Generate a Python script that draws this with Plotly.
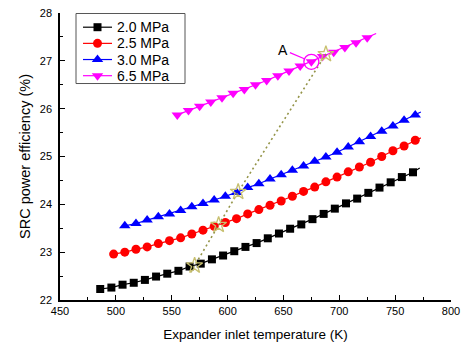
import plotly.graph_objects as go

# ---- data ----
x_20 = [486, 496, 506, 516, 526, 536, 546, 556, 566, 576, 586, 596, 606, 616, 626,
        636, 646, 656, 666, 676, 686, 696, 706, 716, 726, 736, 746, 756, 766, 772]
y_20 = [22.23, 22.26, 22.32, 22.36, 22.42, 22.49, 22.55, 22.61, 22.70, 22.76, 22.85,
        22.93, 23.02, 23.11, 23.19, 23.29, 23.39, 23.49, 23.58, 23.69, 23.80, 23.91,
        24.02, 24.12, 24.24, 24.35, 24.46, 24.57, 24.67, 24.76]

x_25 = [498, 508, 518, 528, 538, 548, 558, 568, 578, 588, 598, 608, 618, 628, 638,
        648, 658, 668, 678, 688, 698, 708, 718, 728, 738, 748, 758, 768, 773]
y_25 = [22.96, 23.00, 23.06, 23.11, 23.18, 23.24, 23.30, 23.38, 23.46, 23.54, 23.62,
        23.70, 23.80, 23.89, 23.98, 24.07, 24.17, 24.27, 24.36, 24.47, 24.57, 24.68,
        24.78, 24.88, 25.00, 25.12, 25.22, 25.34, 25.39]

x_30 = [508, 518, 528, 538, 548, 558, 568, 578, 588, 598, 608, 618, 628, 638, 648,
        658, 668, 678, 688, 698, 708, 718, 728, 738, 748, 758, 768, 773]
y_30 = [23.55, 23.60, 23.67, 23.74, 23.80, 23.87, 23.95, 24.02, 24.09, 24.17, 24.25,
        24.35, 24.43, 24.53, 24.62, 24.71, 24.80, 24.90, 24.99, 25.09, 25.20, 25.31,
        25.42, 25.53, 25.64, 25.76, 25.87, 25.93]

x_65 = [555, 565, 575, 585, 595, 605, 615, 625, 635, 645, 655, 665, 675, 685, 695,
        705, 715, 725, 733]
y_65 = [25.87, 25.96, 26.05, 26.14, 26.23, 26.32, 26.40, 26.50, 26.59, 26.69, 26.79,
        26.89, 26.98, 27.09, 27.18, 27.28, 27.38, 27.48, 27.57]

locus_x = [567, 570.5, 592, 609.5, 688, 690]
locus_y = [22.58, 22.72, 23.57, 24.26, 27.14, 27.21]
star_x = [570.5, 592, 609.5, 688]
star_y = [22.72, 23.57, 24.26, 27.14]

point_a_x = [675]
point_a_y = [26.98]

series_names = ["2.0 MPa", "2.5 MPa", "3.0 MPa", "6.5 MPa"]
x_ticks = [450, 500, 550, 600, 650, 700, 750, 800]
y_ticks = [22, 23, 24, 25, 26, 27, 28]

FONT = "Arial, Liberation Sans, sans-serif"

# plot-area pixel geometry (used for the hand-drawn legend overlay)
PL, PR, PT, PB = 60, 451, 7, 300

fig = go.Figure()

styles = [
    (x_20, y_20, "#000000", "square", 8),
    (x_25, y_25, "#ff0000", "circle", 9),
    (x_30, y_30, "#0000ff", "triangle-up", 10),
    (x_65, y_65, "#ff00ff", "triangle-down", 10),
]
for (xs, ys, col, sym, sz), name in zip(styles, series_names):
    sizes = [sz] * (len(xs) - 1) + [0]
    fig.add_trace(go.Scatter(
        x=xs, y=ys, name=name, mode="lines+markers", showlegend=False,
        line=dict(color=col, width=1.2),
        marker=dict(symbol=sym, size=sizes, color=col, opacity=1, line=dict(width=0)),
    ))

fig.add_trace(go.Scatter(
    x=locus_x, y=locus_y, mode="lines", showlegend=False,
    line=dict(color="#949448", width=1.6, dash="2px,3px"), hoverinfo="skip",
))
fig.add_trace(go.Scatter(
    x=star_x, y=star_y, mode="markers", showlegend=False,
    marker=dict(symbol="star-open", size=12, color="#c8c070",
                line=dict(width=1.3, color="#bdb060")),
))
fig.add_trace(go.Scatter(
    x=point_a_x, y=point_a_y, mode="markers", showlegend=False,
    marker=dict(symbol="circle-open", size=15, color="#ff00ff",
                line=dict(width=1.3, color="#ff00ff")),
))

fig.add_annotation(
    x=point_a_x[0], y=point_a_y[0], xref="x", yref="y",
    text="A", showarrow=True, arrowhead=0, arrowwidth=1.2, arrowcolor="#ff00ff",
    ax=-28, ay=-12, standoff=7, font=dict(family=FONT, size=14, color="#000000"),
)

# ---- hand-drawn legend on a pixel-scaled overlay axis ----
legend_rows = [21.5, 38, 54.5, 71]
for (xs, ys, col, sym, sz), name, ry in zip(styles, series_names, legend_rows):
    fig.add_trace(go.Scatter(
        x=[83, 97.5, 112], y=[ry, ry, ry], xaxis="x2", yaxis="y2",
        mode="lines+markers", showlegend=False, hoverinfo="skip",
        line=dict(color=col, width=1.2),
        marker=dict(symbol=sym, size=[0, sz, 0], color=col, opacity=1,
                    line=dict(width=0)),
    ))
    fig.add_annotation(
        x=115, y=ry, xref="x2", yref="y2", text=name, showarrow=False,
        xanchor="left", yanchor="middle",
        font=dict(family=FONT, size=14, color="#000000"),
    )
fig.add_shape(type="rect", xref="x2", yref="y2", x0=76, x1=185, y0=7.5, y1=79,
              line=dict(color="#555555", width=1), fillcolor="rgba(0,0,0,0)")

axis_common = dict(
    showline=True, linecolor="#000000", linewidth=1.5, mirror=False,
    showgrid=False, zeroline=False,
    ticks="inside", ticklen=5, tickwidth=1.3, tickcolor="#000000",
    tickfont=dict(family=FONT, size=11, color="#000000"),
)

xaxis = dict(
    range=[450, 800], tickvals=x_ticks, ticktext=[str(v) for v in x_ticks],
    minor=dict(ticks="inside", ticklen=3, tickwidth=1, tickcolor="#000000", dtick=25,
               tick0=450, showgrid=False),
    title=dict(text="Expander inlet temperature (K)",
               font=dict(family=FONT, size=13.5, color="#000000"), standoff=14),
    **axis_common,
)
yaxis = dict(
    range=[22, 28], tickvals=y_ticks, ticktext=[str(v) for v in y_ticks],
    minor=dict(ticks="inside", ticklen=3, tickwidth=1, tickcolor="#000000", dtick=0.5,
               tick0=22, showgrid=False),
    title=dict(text="SRC power efficiency (%)",
               font=dict(family=FONT, size=14.5, color="#000000"), standoff=6),
    ticklabelstandoff=4,
    **axis_common,
)

fig.update_layout(
    width=474, height=351,
    margin=dict(l=PL, r=474 - PR, t=PT, b=351 - PB),
    paper_bgcolor="#ffffff", plot_bgcolor="#ffffff",
    showlegend=False,
    xaxis=xaxis, yaxis=yaxis,
    xaxis2=dict(overlaying="x", range=[PL, PR], visible=False, fixedrange=True,
                anchor="y2"),
    yaxis2=dict(overlaying="y", range=[PB, PT], visible=False, fixedrange=True,
                anchor="x2"),
)

fig.write_html("out.html")
